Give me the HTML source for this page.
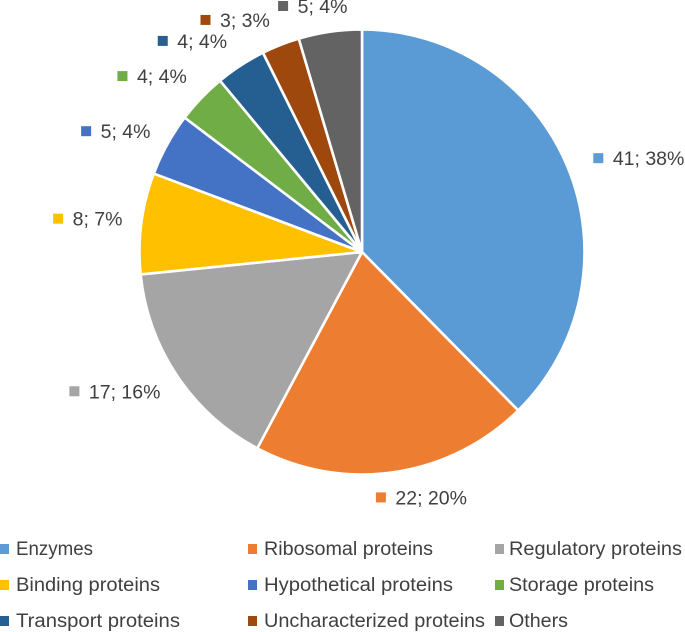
<!DOCTYPE html>
<html lang="en">
<head>
<meta charset="utf-8">
<title>Protein categories pie chart</title>
<style>
html,body{margin:0;padding:0;background:#fff;width:685px;height:632px;overflow:hidden}
svg{display:block}
text{font-family:"Liberation Sans",sans-serif;fill:#404040;font-size:19.5px}
</style>
</head>
<body>
<svg id="chart" width="685" height="632" viewBox="0 0 685 632" xmlns="http://www.w3.org/2000/svg">
<defs><filter id="soft" x="-5%" y="-5%" width="110%" height="110%"><feGaussianBlur stdDeviation="0.35"/></filter></defs>
<g id="slices"></g>
<g id="labels" filter="url(#soft)"></g>
<g id="legend" filter="url(#soft)"></g>
</svg>
<script>
const categories = ["Enzymes","Ribosomal proteins","Regulatory proteins","Binding proteins","Hypothetical proteins","Storage proteins","Transport proteins","Uncharacterized proteins","Others"];
const counts = [41,22,17,8,5,4,4,3,5];
const percentLabels = ["38%","20%","16%","7%","4%","4%","4%","3%","4%"];
const colors = ["#5B9BD5","#ED7D31","#A5A5A5","#FFC000","#4472C4","#70AD47","#255E91","#9E480E","#636363"];

const SVG_NS = "http://www.w3.org/2000/svg";
const cx = 362, cy = 252, radius = 222.5, labelRadius = 250;
const labelNudgeX = [5,-17,-80,-56,-57,-59,-63,-65,-43];
const labelNudgeY = [1,-2,0,-1,0,-3,-1.5,0.6,1.4];
const legendColumnX = [0,248,495];
const legendTextX = [16,264,509];
const legendRowY = [549,585,621];
const legendTextWidth = [77,169,173,144,189,145,164,221,59];
const total = counts.reduce((a,b)=>a+b,0);

function angleScale(v){ return v / total * 2 * Math.PI; }
function polarX(a,r){ return cx + r * Math.sin(a); }
function polarY(a,r){ return cy - r * Math.cos(a); }

const slices = document.getElementById("slices");
const labels = document.getElementById("labels");
const legend = document.getElementById("legend");

let cum = 0;
counts.forEach((v,i)=>{
  const a0 = angleScale(cum), a1 = angleScale(cum + v), mid = (a0 + a1) / 2;
  cum += v;
  const p = document.createElementNS(SVG_NS,"path");
  const large = (a1 - a0) > Math.PI ? 1 : 0;
  p.setAttribute("d",`M${cx} ${cy}L${polarX(a0,radius)} ${polarY(a0,radius)}A${radius} ${radius} 0 ${large} 1 ${polarX(a1,radius)} ${polarY(a1,radius)}Z`);
  p.setAttribute("fill",colors[i]);
  p.setAttribute("stroke","#fff");
  p.setAttribute("stroke-width","2.6");
  p.setAttribute("stroke-linejoin","round");
  
  
  slices.appendChild(p);

  const mx = polarX(mid,labelRadius) + labelNudgeX[i];
  const my = polarY(mid,labelRadius) + labelNudgeY[i];
  const sw = document.createElementNS(SVG_NS,"rect");
  sw.setAttribute("x",mx-5);
  sw.setAttribute("y",my-5);
  sw.setAttribute("width",10);
  sw.setAttribute("height",10);
  sw.setAttribute("fill",colors[i]);
  
  
  labels.appendChild(sw);
  const t = document.createElementNS(SVG_NS,"text");
  t.setAttribute("x",mx+14.5);
  t.setAttribute("y",my+7);
  t.textContent = counts[i] + "; " + percentLabels[i];
  
  
  labels.appendChild(t);

  const col = i % 3, row = Math.floor(i / 3);
  const ly = legendRowY[row];
  const ls = document.createElementNS(SVG_NS,"rect");
  ls.setAttribute("x",legendColumnX[col]);
  ls.setAttribute("y",ly-5);
  ls.setAttribute("width",9);
  ls.setAttribute("height",10);
  ls.setAttribute("fill",colors[i]);
  
  
  legend.appendChild(ls);
  const lt = document.createElementNS(SVG_NS,"text");
  lt.setAttribute("x",legendTextX[col]);
  lt.setAttribute("y",ly+6);
  lt.setAttribute("textLength",legendTextWidth[i]);
  lt.setAttribute("lengthAdjust","spacingAndGlyphs");
  lt.style.fontSize = "19px";
  lt.textContent = categories[i];
  
  
  legend.appendChild(lt);
});
</script>
</body>
</html>
